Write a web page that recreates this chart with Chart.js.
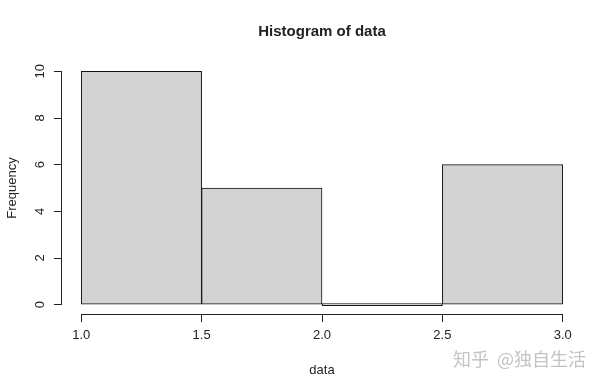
<!DOCTYPE html>
<html>
<head>
<meta charset="utf-8">
<script src="https://cdn.jsdelivr.net/npm/chart.js@4"></script>
<style>
  html, body { margin: 0; padding: 0; background: #fff; }
  #wrap { width: 600px; height: 384px; }
</style>
</head>
<body>
<div id="wrap"><canvas id="hist" width="600" height="384"></canvas></div>
<script>
// ---- data ----
const binStarts = [1.0, 1.5, 2.0, 2.5];
const binWidth = 0.5;
const counts = [10, 5, 0, 6];
const xTicks = [1.0, 1.5, 2.0, 2.5, 3.0];
const yTicks = [0, 2, 4, 6, 8, 10];

const chartTitle = "Histogram of data";
const xTitle = "data";
const yTitle = "Frequency";
const watermark = "知乎  @独自生活";

const ink = "#222";
const font = "'Liberation Sans', Arial, sans-serif";

// R-style extras: title, axis titles, axis lines, rotated y labels
const rDecor = {
    id: "rDecor",
    afterDraw(chart) {
        const ctx = chart.ctx;
        const xs = chart.scales.x, ys = chart.scales.y;
        const area = chart.chartArea;
        ctx.save();
        ctx.strokeStyle = ink;
        ctx.lineWidth = 1;

        // axis lines only across tick range
        ctx.beginPath();
        const yb = Math.round(area.bottom) + 0.5;
        ctx.moveTo(xs.getPixelForValue(xTicks[0]), yb);
        ctx.lineTo(xs.getPixelForValue(xTicks[xTicks.length - 1]), yb);
        const xl = Math.round(area.left) - 0.5;
        ctx.moveTo(xl, ys.getPixelForValue(yTicks[0]));
        ctx.lineTo(xl, ys.getPixelForValue(yTicks[yTicks.length - 1]));
        ctx.stroke();

        ctx.fillStyle = ink;
        ctx.textAlign = "center";
        ctx.textBaseline = "middle";

        // y tick labels, rotated
        ctx.font = "13px " + font;
        yTicks.forEach(v => {
            ctx.save();
            ctx.translate(40, ys.getPixelForValue(v));
            ctx.rotate(-Math.PI / 2);
            ctx.fillText(String(v), 0, 0);
            ctx.restore();
        });

        const cx = (area.left + area.right) / 2;

        // title
        ctx.font = "bold 15px " + font;
        ctx.fillText(chartTitle, cx, 32);

        // axis titles
        ctx.font = "13px " + font;
        ctx.fillText(xTitle, cx, 370);
        ctx.save();
        ctx.translate(12, (area.top + area.bottom) / 2);
        ctx.rotate(-Math.PI / 2);
        ctx.fillText(yTitle, 0, 0);
        ctx.restore();

        // watermark
        ctx.fillStyle = "rgba(185,185,185,0.85)";
        ctx.font = "18px 'Noto Sans CJK SC', sans-serif";
        ctx.textAlign = "right";
        ctx.fillText(watermark, 586, 359);

        ctx.restore();
    }
};

function initChart() {
    const ctx = document.getElementById("hist").getContext("2d");
    new Chart(ctx, {
        type: "bar",
        data: {
            datasets: [{
                data: binStarts.map((s, i) => ({ x: s + binWidth / 2, y: counts[i] })),
                backgroundColor: "#d3d3d3",
                borderColor: "#111",
                borderWidth: 1,
                borderSkipped: false,
                minBarLength: 2,
                barPercentage: 1,
                categoryPercentage: 1
            }]
        },
        options: {
            responsive: false,
            animation: false,
            devicePixelRatio: 1,
            layout: { padding: { top: 62, right: 18, left: 0, bottom: 0 } },
            plugins: {
                legend: { display: false },
                tooltip: { enabled: false },
                title: { display: false }
            },
            scales: {
                x: {
                    type: "linear",
                    offset: false,
                    min: 0.92,
                    max: 3.08,
                    afterBuildTicks: s => { s.ticks = xTicks.map(v => ({ value: v })); },
                    afterFit: s => { s.height = 70; },
                    border: { display: false },
                    grid: { offset: false, drawOnChartArea: false, drawTicks: true, tickLength: 8, color: ink },
                    ticks: {
                        color: ink,
                        padding: 6,
                        maxRotation: 0,
                        font: { family: font, size: 13 },
                        callback: v => Number(v).toFixed(1)
                    }
                },
                y: {
                    min: -0.4,
                    max: 10.4,
                    afterBuildTicks: s => { s.ticks = yTicks.map(v => ({ value: v })); },
                    afterFit: s => { s.width = 62; },
                    border: { display: false },
                    grid: { drawOnChartArea: false, drawTicks: true, tickLength: 8, color: ink },
                    ticks: { display: false }
                }
            }
        },
        plugins: [rDecor]
    });
}

document.addEventListener("DOMContentLoaded", initChart);
</script>
</body>
</html>
